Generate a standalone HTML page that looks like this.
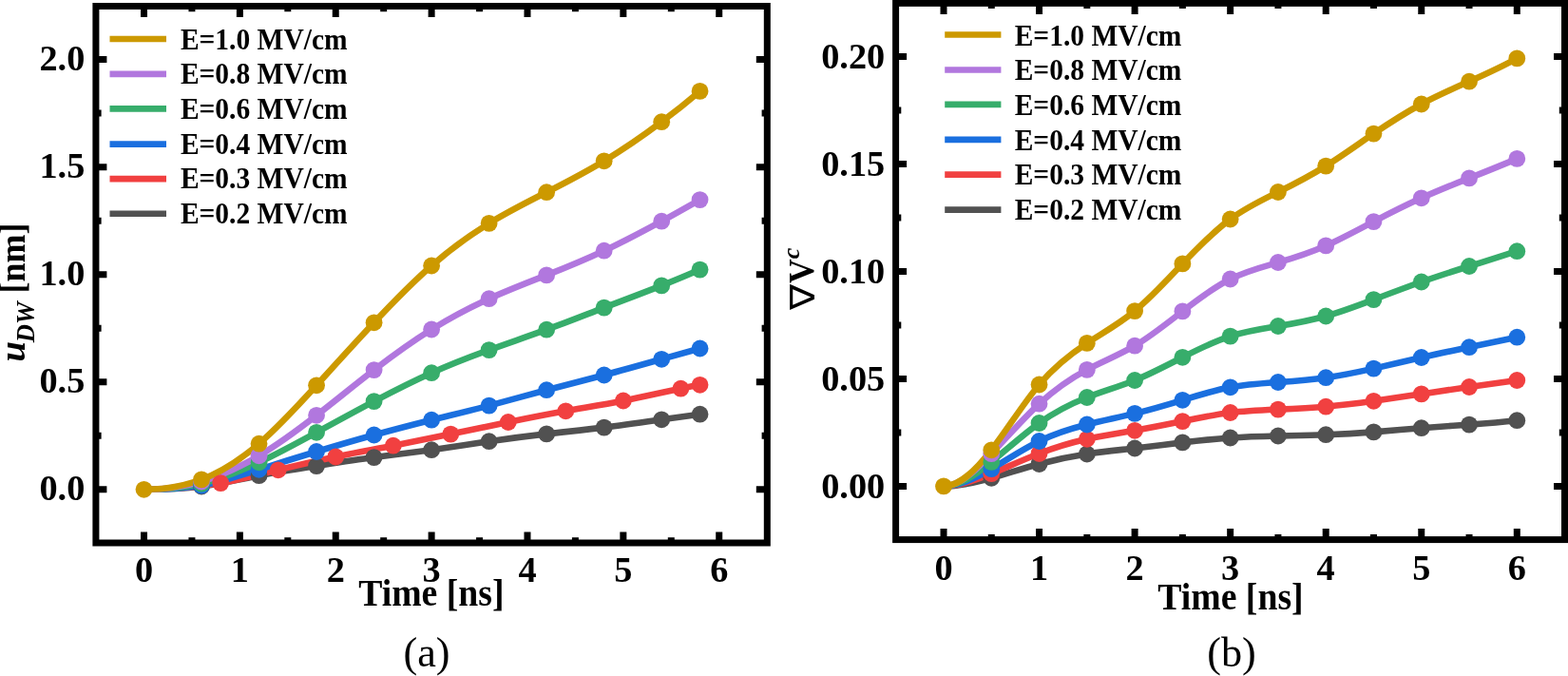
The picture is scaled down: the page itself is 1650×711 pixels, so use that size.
<!DOCTYPE html><html><head><meta charset="utf-8"><style>html,body{margin:0;padding:0;background:#fff;}svg{display:block}text{font-family:"Liberation Serif","Times New Roman",serif;fill:#000}.b{font-weight:bold}.tk{font-weight:bold;font-size:38.3px}.lg{font-weight:bold;font-size:30.7px}.ttl{font-weight:bold;font-size:38.7px}.tt2{font-weight:bold;font-size:39.3px}.cap{font-size:44.2px}</style></head><body><svg width="1650" height="711" viewBox="0 0 1650 711"><rect width="1650" height="711" fill="#fff"/><g fill="none" stroke-width="6.6" stroke-linejoin="round" stroke-linecap="round"><path d="M151.50 514.80C171.67 514.80 191.85 514.17 212.02 511.50C232.20 508.83 252.37 504.10 272.54 500.20C292.72 496.30 312.89 493.21 333.07 490.10C353.24 486.99 373.41 483.84 393.59 481.10C413.76 478.36 433.94 476.01 454.11 473.20C474.28 470.39 494.46 467.12 514.63 464.20C534.81 461.28 554.98 458.70 575.15 456.40C595.33 454.10 615.50 452.08 635.68 449.60C655.85 447.12 676.02 444.19 696.20 441.30C709.65 439.37 723.10 437.46 736.55 435.70" stroke="#515151"/><path d="M151.50 514.80C178.40 514.80 205.30 512.91 232.20 508.10C252.37 504.49 272.54 499.25 292.72 494.30C312.89 489.35 333.07 484.69 353.24 480.50C373.41 476.31 393.59 472.58 413.76 468.70C433.94 464.82 454.11 460.77 474.28 456.60C494.46 452.43 514.63 448.13 534.81 444.00C554.98 439.87 575.15 435.90 595.33 432.30C615.50 428.70 635.68 425.47 655.85 421.50C676.02 417.53 696.20 412.84 716.37 408.70C723.10 407.32 729.82 406.01 736.55 404.80" stroke="#F14040"/><path d="M151.50 514.80C171.67 514.80 191.85 514.23 212.02 510.60C232.20 506.97 252.37 500.28 272.54 493.80C292.72 487.32 312.89 481.07 333.07 475.00C353.24 468.93 373.41 463.05 393.59 457.50C413.76 451.95 433.94 446.72 454.11 441.70C474.28 436.68 494.46 431.88 514.63 426.60C534.81 421.32 554.98 415.57 575.15 410.20C595.33 404.83 615.50 399.83 635.68 394.50C655.85 389.17 676.02 383.49 696.20 377.80C709.65 374.01 723.10 370.21 736.55 366.50" stroke="#1A6FDF"/><path d="M151.50 514.80C171.67 514.80 191.85 513.35 212.02 508.60C232.20 503.85 252.37 495.81 272.54 486.30C292.72 476.79 312.89 465.81 333.07 454.80C353.24 443.79 373.41 432.74 393.59 422.10C413.76 411.46 433.94 401.22 454.11 392.20C474.28 383.18 494.46 375.38 514.63 368.10C534.81 360.82 554.98 354.07 575.15 346.70C595.33 339.33 615.50 331.34 635.68 323.60C655.85 315.86 676.02 308.37 696.20 300.40C709.65 295.09 723.10 289.56 736.55 283.60" stroke="#37AD6B"/><path d="M151.50 514.80C171.67 514.80 191.85 512.36 212.02 506.50C232.20 500.64 252.37 491.34 272.54 479.30C292.72 467.26 312.89 452.46 333.07 436.80C353.24 421.14 373.41 404.62 393.59 389.10C413.76 373.58 433.94 359.06 454.11 346.50C474.28 333.94 494.46 323.34 514.63 314.20C534.81 305.06 554.98 297.39 575.15 289.40C595.33 281.41 615.50 273.12 635.68 263.70C655.85 254.28 676.02 243.75 696.20 232.70C709.65 225.33 723.10 217.74 736.55 210.10" stroke="#B177DE"/><path d="M151.50 514.80C171.67 514.80 191.85 512.10 212.02 504.40C232.20 496.70 252.37 484.01 272.54 466.70C292.72 449.39 312.89 427.45 333.07 405.30C353.24 383.15 373.41 360.80 393.59 339.30C413.76 317.80 433.94 297.14 454.11 279.50C474.28 261.86 494.46 247.25 514.63 234.90C534.81 222.55 554.98 212.48 575.15 202.20C595.33 191.92 615.50 181.43 635.68 169.30C655.85 157.17 676.02 143.41 696.20 128.20C709.65 118.06 723.10 107.27 736.55 95.90" stroke="#CC9900"/></g><g fill="#515151"><circle cx="212.02" cy="511.50" r="8.9"/><circle cx="272.54" cy="500.20" r="8.9"/><circle cx="333.07" cy="490.10" r="8.9"/><circle cx="393.59" cy="481.10" r="8.9"/><circle cx="454.11" cy="473.20" r="8.9"/><circle cx="514.63" cy="464.20" r="8.9"/><circle cx="575.15" cy="456.40" r="8.9"/><circle cx="635.68" cy="449.60" r="8.9"/><circle cx="696.20" cy="441.30" r="8.9"/><circle cx="736.55" cy="435.70" r="8.9"/></g><g fill="#F14040"><circle cx="232.20" cy="508.10" r="8.9"/><circle cx="292.72" cy="494.30" r="8.9"/><circle cx="353.24" cy="480.50" r="8.9"/><circle cx="413.76" cy="468.70" r="8.9"/><circle cx="474.28" cy="456.60" r="8.9"/><circle cx="534.81" cy="444.00" r="8.9"/><circle cx="595.33" cy="432.30" r="8.9"/><circle cx="655.85" cy="421.50" r="8.9"/><circle cx="716.37" cy="408.70" r="8.9"/><circle cx="736.55" cy="404.80" r="8.9"/></g><g fill="#1A6FDF"><circle cx="212.02" cy="510.60" r="8.9"/><circle cx="272.54" cy="493.80" r="8.9"/><circle cx="333.07" cy="475.00" r="8.9"/><circle cx="393.59" cy="457.50" r="8.9"/><circle cx="454.11" cy="441.70" r="8.9"/><circle cx="514.63" cy="426.60" r="8.9"/><circle cx="575.15" cy="410.20" r="8.9"/><circle cx="635.68" cy="394.50" r="8.9"/><circle cx="696.20" cy="377.80" r="8.9"/><circle cx="736.55" cy="366.50" r="8.9"/></g><g fill="#37AD6B"><circle cx="212.02" cy="508.60" r="8.9"/><circle cx="272.54" cy="486.30" r="8.9"/><circle cx="333.07" cy="454.80" r="8.9"/><circle cx="393.59" cy="422.10" r="8.9"/><circle cx="454.11" cy="392.20" r="8.9"/><circle cx="514.63" cy="368.10" r="8.9"/><circle cx="575.15" cy="346.70" r="8.9"/><circle cx="635.68" cy="323.60" r="8.9"/><circle cx="696.20" cy="300.40" r="8.9"/><circle cx="736.55" cy="283.60" r="8.9"/></g><g fill="#B177DE"><circle cx="212.02" cy="506.50" r="8.9"/><circle cx="272.54" cy="479.30" r="8.9"/><circle cx="333.07" cy="436.80" r="8.9"/><circle cx="393.59" cy="389.10" r="8.9"/><circle cx="454.11" cy="346.50" r="8.9"/><circle cx="514.63" cy="314.20" r="8.9"/><circle cx="575.15" cy="289.40" r="8.9"/><circle cx="635.68" cy="263.70" r="8.9"/><circle cx="696.20" cy="232.70" r="8.9"/><circle cx="736.55" cy="210.10" r="8.9"/></g><g fill="#CC9900"><circle cx="151.50" cy="514.80" r="8.9"/><circle cx="212.02" cy="504.40" r="8.9"/><circle cx="272.54" cy="466.70" r="8.9"/><circle cx="333.07" cy="405.30" r="8.9"/><circle cx="393.59" cy="339.30" r="8.9"/><circle cx="454.11" cy="279.50" r="8.9"/><circle cx="514.63" cy="234.90" r="8.9"/><circle cx="575.15" cy="202.20" r="8.9"/><circle cx="635.68" cy="169.30" r="8.9"/><circle cx="696.20" cy="128.20" r="8.9"/><circle cx="736.55" cy="95.90" r="8.9"/></g><rect x="100.90" y="6.50" width="706.40" height="564.50" fill="none" stroke="#000" stroke-width="7"/><path d="M151.50 571.00V559.50M151.50 6.50V18.00M252.37 571.00V559.50M252.37 6.50V18.00M353.24 571.00V559.50M353.24 6.50V18.00M454.11 571.00V559.50M454.11 6.50V18.00M554.98 571.00V559.50M554.98 6.50V18.00M655.85 571.00V559.50M655.85 6.50V18.00M756.72 571.00V559.50M756.72 6.50V18.00M201.94 571.00V565.30M201.94 6.50V12.20M302.81 571.00V565.30M302.81 6.50V12.20M403.68 571.00V565.30M403.68 6.50V12.20M504.55 571.00V565.30M504.55 6.50V12.20M605.41 571.00V565.30M605.41 6.50V12.20M706.29 571.00V565.30M706.29 6.50V12.20M100.90 514.80H112.40M807.30 514.80H795.80M100.90 401.75H112.40M807.30 401.75H795.80M100.90 288.70H112.40M807.30 288.70H795.80M100.90 175.65H112.40M807.30 175.65H795.80M100.90 62.60H112.40M807.30 62.60H795.80M100.90 458.27H106.60M807.30 458.27H801.60M100.90 345.22H106.60M807.30 345.22H801.60M100.90 232.17H106.60M807.30 232.17H801.60M100.90 119.12H106.60M807.30 119.12H801.60" stroke="#000" stroke-width="7" fill="none"/><text x="89.3" y="525.90" class="tk" text-anchor="end">0.0</text><text x="89.3" y="412.85" class="tk" text-anchor="end">0.5</text><text x="89.3" y="299.80" class="tk" text-anchor="end">1.0</text><text x="89.3" y="186.75" class="tk" text-anchor="end">1.5</text><text x="89.3" y="73.70" class="tk" text-anchor="end">2.0</text><text x="151.50" y="612.2" class="tk" text-anchor="middle">0</text><text x="252.37" y="612.2" class="tk" text-anchor="middle">1</text><text x="353.24" y="612.2" class="tk" text-anchor="middle">2</text><text x="454.11" y="612.2" class="tk" text-anchor="middle">3</text><text x="554.98" y="612.2" class="tk" text-anchor="middle">4</text><text x="655.85" y="612.2" class="tk" text-anchor="middle">5</text><text x="756.72" y="612.2" class="tk" text-anchor="middle">6</text><text x="453.9" y="636.7" class="tt2" text-anchor="middle" textLength="153.3" lengthAdjust="spacingAndGlyphs">Time [ns]</text><text x="449" y="701.3" class="cap" text-anchor="middle">(a)</text><line x1="115.5" y1="41.05" x2="175.0" y2="41.05" stroke="#CC9900" stroke-width="6.6"/><text x="189.9" y="51.70" class="lg" textLength="175.7" lengthAdjust="spacingAndGlyphs">E=1.0 MV/cm</text><line x1="115.5" y1="77.90" x2="175.0" y2="77.90" stroke="#B177DE" stroke-width="6.6"/><text x="189.9" y="88.36" class="lg" textLength="175.7" lengthAdjust="spacingAndGlyphs">E=0.8 MV/cm</text><line x1="115.5" y1="114.40" x2="175.0" y2="114.40" stroke="#37AD6B" stroke-width="6.6"/><text x="189.9" y="125.02" class="lg" textLength="175.7" lengthAdjust="spacingAndGlyphs">E=0.6 MV/cm</text><line x1="115.5" y1="151.60" x2="175.0" y2="151.60" stroke="#1A6FDF" stroke-width="6.6"/><text x="189.9" y="161.68" class="lg" textLength="175.7" lengthAdjust="spacingAndGlyphs">E=0.4 MV/cm</text><line x1="115.5" y1="188.10" x2="175.0" y2="188.10" stroke="#F14040" stroke-width="6.6"/><text x="189.9" y="198.34" class="lg" textLength="175.7" lengthAdjust="spacingAndGlyphs">E=0.3 MV/cm</text><line x1="115.5" y1="224.80" x2="175.0" y2="224.80" stroke="#515151" stroke-width="6.6"/><text x="189.9" y="235.00" class="lg" textLength="175.7" lengthAdjust="spacingAndGlyphs">E=0.2 MV/cm</text><text transform="translate(26.0 380.4) rotate(-90)" class="ttl" font-style="italic">u</text><text transform="translate(35.6 360.2) rotate(-90)" class="ttl" font-style="italic" style="font-size:26.5px">DW</text><text transform="translate(26.4 308.4) rotate(-90)" class="ttl" textLength="73.9" lengthAdjust="spacingAndGlyphs">[nm]</text><g fill="none" stroke-width="6.6" stroke-linejoin="round" stroke-linecap="round"><path d="M993.00 511.40C1009.76 511.40 1026.52 507.52 1043.28 502.80C1060.03 498.08 1076.79 492.51 1093.55 488.00C1110.31 483.49 1127.07 480.02 1143.83 477.50C1160.58 474.98 1177.34 473.40 1194.10 471.50C1210.86 469.60 1227.62 467.39 1244.38 465.40C1261.13 463.41 1277.89 461.63 1294.65 460.50C1311.41 459.37 1328.17 458.89 1344.92 458.50C1361.68 458.11 1378.44 457.81 1395.20 457.20C1411.96 456.59 1428.72 455.66 1445.47 454.40C1462.23 453.14 1478.99 451.53 1495.75 450.20C1512.51 448.87 1529.27 447.80 1546.03 446.60C1562.78 445.40 1579.54 444.07 1596.30 442.20" stroke="#515151"/><path d="M993.00 511.40C1009.76 511.40 1026.52 505.20 1043.28 498.20C1060.03 491.20 1076.79 483.42 1093.55 477.00C1110.31 470.58 1127.07 465.53 1143.83 461.80C1160.58 458.07 1177.34 455.68 1194.10 452.80C1210.86 449.92 1227.62 446.56 1244.38 443.10C1261.13 439.64 1277.89 436.09 1294.65 434.00C1311.41 431.91 1328.17 431.29 1344.92 430.60C1361.68 429.91 1378.44 429.14 1395.20 427.70C1411.96 426.26 1428.72 424.14 1445.47 421.80C1462.23 419.46 1478.99 416.91 1495.75 414.40C1512.51 411.89 1529.27 409.41 1546.03 407.00C1562.78 404.59 1579.54 402.25 1596.30 400.00" stroke="#F14040"/><path d="M993.00 511.40C1009.76 511.40 1026.52 503.01 1043.28 493.20C1060.03 483.39 1076.79 472.17 1093.55 464.00C1110.31 455.83 1127.07 450.71 1143.83 446.50C1160.58 442.29 1177.34 439.00 1194.10 434.90C1210.86 430.80 1227.62 425.89 1244.38 420.80C1261.13 415.71 1277.89 410.44 1294.65 407.30C1311.41 404.16 1328.17 403.15 1344.92 402.00C1361.68 400.85 1378.44 399.57 1395.20 397.20C1411.96 394.83 1428.72 391.36 1445.47 387.60C1462.23 383.84 1478.99 379.79 1495.75 376.00C1512.51 372.21 1529.27 368.68 1546.03 365.20C1562.78 361.72 1579.54 358.29 1596.30 354.70" stroke="#1A6FDF"/><path d="M993.00 511.40C1009.76 511.40 1026.52 499.52 1043.28 485.90C1060.03 472.28 1076.79 456.93 1093.55 445.00C1110.31 433.07 1127.07 424.58 1143.83 418.00C1160.58 411.42 1177.34 406.76 1194.10 400.00C1210.86 393.24 1227.62 384.37 1244.38 375.80C1261.13 367.23 1277.89 358.97 1294.65 353.60C1311.41 348.23 1328.17 345.76 1344.92 343.00C1361.68 340.24 1378.44 337.20 1395.20 332.50C1411.96 327.80 1428.72 321.46 1445.47 315.10C1462.23 308.74 1478.99 302.37 1495.75 296.50C1512.51 290.63 1529.27 285.26 1546.03 280.00C1562.78 274.74 1579.54 269.60 1596.30 264.20" stroke="#37AD6B"/><path d="M993.00 511.40C1009.76 511.40 1026.52 495.03 1043.28 477.20C1060.03 459.37 1076.79 440.09 1093.55 424.70C1110.31 409.31 1127.07 397.83 1143.83 388.90C1160.58 379.97 1177.34 373.60 1194.10 363.70C1210.86 353.80 1227.62 340.38 1244.38 327.40C1261.13 314.42 1277.89 301.89 1294.65 293.50C1311.41 285.11 1328.17 280.85 1344.92 276.00C1361.68 271.15 1378.44 265.71 1395.20 258.40C1411.96 251.09 1428.72 241.91 1445.47 233.10C1462.23 224.29 1478.99 215.86 1495.75 208.30C1512.51 200.74 1529.27 194.03 1546.03 187.40C1562.78 180.77 1579.54 174.20 1596.30 166.90" stroke="#B177DE"/><path d="M993.00 511.40C1009.76 511.40 1026.52 495.04 1043.28 473.30C1060.03 451.56 1076.79 424.43 1093.55 404.50C1110.31 384.57 1127.07 371.83 1143.83 360.90C1160.58 349.97 1177.34 340.84 1194.10 327.10C1210.86 313.36 1227.62 295.02 1244.38 277.40C1261.13 259.78 1277.89 242.88 1294.65 230.50C1311.41 218.12 1328.17 210.27 1344.92 202.00C1361.68 193.73 1378.44 185.03 1395.20 174.60C1411.96 164.17 1428.72 152.01 1445.47 140.60C1462.23 129.19 1478.99 118.51 1495.75 109.50C1512.51 100.49 1529.27 93.14 1546.03 85.70C1562.78 78.26 1579.54 70.75 1596.30 61.40" stroke="#CC9900"/></g><g fill="#515151"><circle cx="1043.28" cy="502.80" r="8.9"/><circle cx="1093.55" cy="488.00" r="8.9"/><circle cx="1143.83" cy="477.50" r="8.9"/><circle cx="1194.10" cy="471.50" r="8.9"/><circle cx="1244.38" cy="465.40" r="8.9"/><circle cx="1294.65" cy="460.50" r="8.9"/><circle cx="1344.92" cy="458.50" r="8.9"/><circle cx="1395.20" cy="457.20" r="8.9"/><circle cx="1445.47" cy="454.40" r="8.9"/><circle cx="1495.75" cy="450.20" r="8.9"/><circle cx="1546.03" cy="446.60" r="8.9"/><circle cx="1596.30" cy="442.20" r="8.9"/></g><g fill="#F14040"><circle cx="1043.28" cy="498.20" r="8.9"/><circle cx="1093.55" cy="477.00" r="8.9"/><circle cx="1143.83" cy="461.80" r="8.9"/><circle cx="1194.10" cy="452.80" r="8.9"/><circle cx="1244.38" cy="443.10" r="8.9"/><circle cx="1294.65" cy="434.00" r="8.9"/><circle cx="1344.92" cy="430.60" r="8.9"/><circle cx="1395.20" cy="427.70" r="8.9"/><circle cx="1445.47" cy="421.80" r="8.9"/><circle cx="1495.75" cy="414.40" r="8.9"/><circle cx="1546.03" cy="407.00" r="8.9"/><circle cx="1596.30" cy="400.00" r="8.9"/></g><g fill="#1A6FDF"><circle cx="1043.28" cy="493.20" r="8.9"/><circle cx="1093.55" cy="464.00" r="8.9"/><circle cx="1143.83" cy="446.50" r="8.9"/><circle cx="1194.10" cy="434.90" r="8.9"/><circle cx="1244.38" cy="420.80" r="8.9"/><circle cx="1294.65" cy="407.30" r="8.9"/><circle cx="1344.92" cy="402.00" r="8.9"/><circle cx="1395.20" cy="397.20" r="8.9"/><circle cx="1445.47" cy="387.60" r="8.9"/><circle cx="1495.75" cy="376.00" r="8.9"/><circle cx="1546.03" cy="365.20" r="8.9"/><circle cx="1596.30" cy="354.70" r="8.9"/></g><g fill="#37AD6B"><circle cx="1043.28" cy="485.90" r="8.9"/><circle cx="1093.55" cy="445.00" r="8.9"/><circle cx="1143.83" cy="418.00" r="8.9"/><circle cx="1194.10" cy="400.00" r="8.9"/><circle cx="1244.38" cy="375.80" r="8.9"/><circle cx="1294.65" cy="353.60" r="8.9"/><circle cx="1344.92" cy="343.00" r="8.9"/><circle cx="1395.20" cy="332.50" r="8.9"/><circle cx="1445.47" cy="315.10" r="8.9"/><circle cx="1495.75" cy="296.50" r="8.9"/><circle cx="1546.03" cy="280.00" r="8.9"/><circle cx="1596.30" cy="264.20" r="8.9"/></g><g fill="#B177DE"><circle cx="1043.28" cy="477.20" r="8.9"/><circle cx="1093.55" cy="424.70" r="8.9"/><circle cx="1143.83" cy="388.90" r="8.9"/><circle cx="1194.10" cy="363.70" r="8.9"/><circle cx="1244.38" cy="327.40" r="8.9"/><circle cx="1294.65" cy="293.50" r="8.9"/><circle cx="1344.92" cy="276.00" r="8.9"/><circle cx="1395.20" cy="258.40" r="8.9"/><circle cx="1445.47" cy="233.10" r="8.9"/><circle cx="1495.75" cy="208.30" r="8.9"/><circle cx="1546.03" cy="187.40" r="8.9"/><circle cx="1596.30" cy="166.90" r="8.9"/></g><g fill="#CC9900"><circle cx="993.00" cy="511.40" r="8.9"/><circle cx="1043.28" cy="473.30" r="8.9"/><circle cx="1093.55" cy="404.50" r="8.9"/><circle cx="1143.83" cy="360.90" r="8.9"/><circle cx="1194.10" cy="327.10" r="8.9"/><circle cx="1244.38" cy="277.40" r="8.9"/><circle cx="1294.65" cy="230.50" r="8.9"/><circle cx="1344.92" cy="202.00" r="8.9"/><circle cx="1395.20" cy="174.60" r="8.9"/><circle cx="1445.47" cy="140.60" r="8.9"/><circle cx="1495.75" cy="109.50" r="8.9"/><circle cx="1546.03" cy="85.70" r="8.9"/><circle cx="1596.30" cy="61.40" r="8.9"/></g><rect x="942.60" y="3.40" width="703.90" height="564.20" fill="none" stroke="#000" stroke-width="7"/><path d="M993.00 567.60V556.10M993.00 3.40V14.90M1093.55 567.60V556.10M1093.55 3.40V14.90M1194.10 567.60V556.10M1194.10 3.40V14.90M1294.65 567.60V556.10M1294.65 3.40V14.90M1395.20 567.60V556.10M1395.20 3.40V14.90M1495.75 567.60V556.10M1495.75 3.40V14.90M1596.30 567.60V556.10M1596.30 3.40V14.90M1043.28 567.60V561.90M1043.28 3.40V9.10M1143.83 567.60V561.90M1143.83 3.40V9.10M1244.38 567.60V561.90M1244.38 3.40V9.10M1344.92 567.60V561.90M1344.92 3.40V9.10M1445.47 567.60V561.90M1445.47 3.40V9.10M1546.03 567.60V561.90M1546.03 3.40V9.10M942.60 511.40H954.10M1646.50 511.40H1635.00M942.60 398.45H954.10M1646.50 398.45H1635.00M942.60 285.50H954.10M1646.50 285.50H1635.00M942.60 172.55H954.10M1646.50 172.55H1635.00M942.60 59.60H954.10M1646.50 59.60H1635.00M942.60 454.92H948.30M1646.50 454.92H1640.80M942.60 341.97H948.30M1646.50 341.97H1640.80M942.60 229.02H948.30M1646.50 229.02H1640.80M942.60 116.07H948.30M1646.50 116.07H1640.80" stroke="#000" stroke-width="7" fill="none"/><text x="931.2" y="523.60" class="tk" text-anchor="end">0.00</text><text x="931.2" y="410.65" class="tk" text-anchor="end">0.05</text><text x="931.2" y="297.70" class="tk" text-anchor="end">0.10</text><text x="931.2" y="184.75" class="tk" text-anchor="end">0.15</text><text x="931.2" y="71.80" class="tk" text-anchor="end">0.20</text><text x="993.00" y="609.6" class="tk" text-anchor="middle">0</text><text x="1093.55" y="609.6" class="tk" text-anchor="middle">1</text><text x="1194.10" y="609.6" class="tk" text-anchor="middle">2</text><text x="1294.65" y="609.6" class="tk" text-anchor="middle">3</text><text x="1395.20" y="609.6" class="tk" text-anchor="middle">4</text><text x="1495.75" y="609.6" class="tk" text-anchor="middle">5</text><text x="1596.30" y="609.6" class="tk" text-anchor="middle">6</text><text x="1295.0" y="640.6" class="tt2" text-anchor="middle" textLength="153.3" lengthAdjust="spacingAndGlyphs">Time [ns]</text><text x="1296" y="700.6" class="cap" text-anchor="middle">(b)</text><line x1="994.2" y1="36.50" x2="1053.4" y2="36.50" stroke="#CC9900" stroke-width="6.6"/><text x="1067.7" y="47.60" class="lg" textLength="175.7" lengthAdjust="spacingAndGlyphs">E=1.0 MV/cm</text><line x1="994.2" y1="73.50" x2="1053.4" y2="73.50" stroke="#B177DE" stroke-width="6.6"/><text x="1067.7" y="84.26" class="lg" textLength="175.7" lengthAdjust="spacingAndGlyphs">E=0.8 MV/cm</text><line x1="994.2" y1="109.90" x2="1053.4" y2="109.90" stroke="#37AD6B" stroke-width="6.6"/><text x="1067.7" y="120.92" class="lg" textLength="175.7" lengthAdjust="spacingAndGlyphs">E=0.6 MV/cm</text><line x1="994.2" y1="146.90" x2="1053.4" y2="146.90" stroke="#1A6FDF" stroke-width="6.6"/><text x="1067.7" y="157.58" class="lg" textLength="175.7" lengthAdjust="spacingAndGlyphs">E=0.4 MV/cm</text><line x1="994.2" y1="183.60" x2="1053.4" y2="183.60" stroke="#F14040" stroke-width="6.6"/><text x="1067.7" y="194.24" class="lg" textLength="175.7" lengthAdjust="spacingAndGlyphs">E=0.3 MV/cm</text><line x1="994.2" y1="220.60" x2="1053.4" y2="220.60" stroke="#515151" stroke-width="6.6"/><text x="1067.7" y="230.90" class="lg" textLength="175.7" lengthAdjust="spacingAndGlyphs">E=0.2 MV/cm</text><text transform="translate(857.4 326.2) rotate(-90)" font-family="DejaVu Serif" font-size="36.2px" textLength="27.0" lengthAdjust="spacingAndGlyphs">&#8711;</text><text transform="translate(856.2 298.09) rotate(-90)" class="ttl" style="font-size:38.5px" textLength="25.57" lengthAdjust="spacingAndGlyphs">V</text><text transform="translate(841.2 272.2) rotate(-90)" font-style="italic" font-weight="bold" font-size="26.2px">c</text></svg></body></html>
